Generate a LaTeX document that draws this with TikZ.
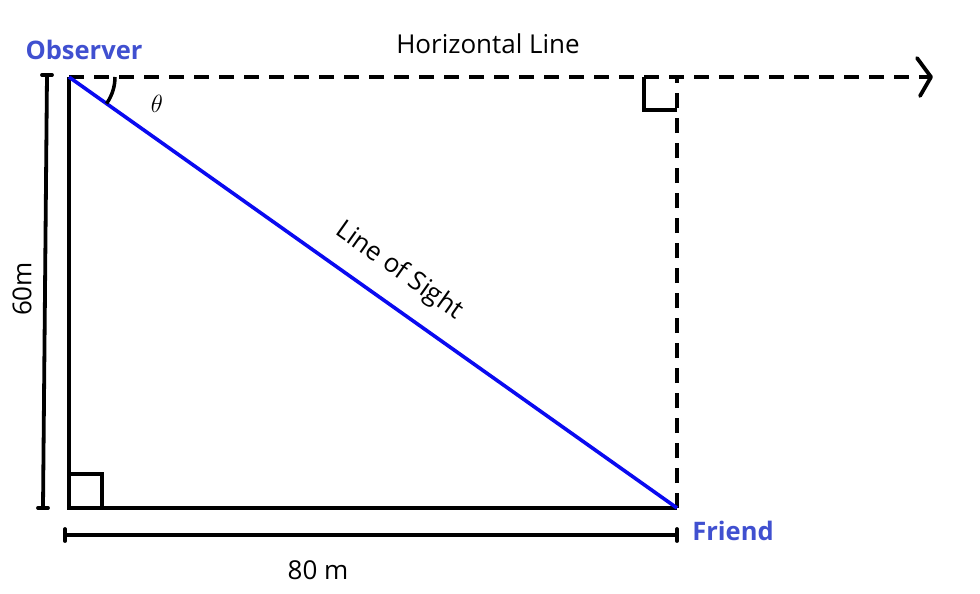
\documentclass[tikz,border=0pt]{standalone}
\usepackage{fontspec}
\setmainfont{Open Sans}
\usetikzlibrary{calc}
\definecolor{lblblue}{RGB}{64,80,208}
\definecolor{sight}{RGB}{10,10,240}
\begin{document}
\begin{tikzpicture}[x=1pt,y=-1pt,
  solid line/.style={line width=3.8pt},
  dash line/.style={line width=3.8pt,dash pattern=on 15pt off 10pt},
  dim line/.style={line width=3.8pt,line cap=round},
  bluelbl/.style={text=lblblue,font=\bfseries\fontsize{25.5}{28}\selectfont,inner sep=0pt},
  plainlbl/.style={font=\fontsize{26}{29}\selectfont,inner sep=0pt}]
\useasboundingbox (0,0) rectangle (980,594);
\coordinate (O) at (69,77);
\coordinate (F) at (677,508);
\coordinate (B) at (69,508);
\coordinate (R) at (677,77);
\coordinate (E) at (931,77);
% triangle sides
\draw[solid line] (O) -- (B) -- (F);
\draw[dash line] (O) -- (E);
\draw[dash line] (F) -- (R);
\draw[line width=3.8pt,line cap=round,line join=round] (917,58) -- (E) -- (920,96);
% right angle markers
\draw[line width=3.5pt] (69,474) -- (102,474) -- (102,508);
\draw[line width=3.5pt] (677,110) -- (644,110) -- (644,77);
% line of sight
\draw[line width=3.6pt,sight] (O) -- (F);
% angle arc
\draw[line width=3.5pt] ($(O)+(46,0)$) arc[start angle=0,end angle=35.3,radius=46];
% dimension lines
\coordinate (DT) at (47,75);
\coordinate (DB) at (43,508);
\draw[dim line] (DT) -- (DB);
\draw[dim line] ($(DT)+(-5,0)$) -- ($(DT)+(5,0)$);
\draw[dim line] ($(DB)+(-5,0)$) -- ($(DB)+(5,0)$);
\coordinate (HL) at (65,535);
\coordinate (HR) at (677,535);
\draw[dim line] (HL) -- (HR);
\draw[dim line] ($(HL)+(0,-6)$) -- ($(HL)+(0,6)$);
\draw[dim line] ($(HR)+(0,-6)$) -- ($(HR)+(0,6)$);
% labels
\node[bluelbl] (obs) at (84,50) {Observer};
\node[bluelbl] (fr) at (733,531) {Friend};
\node[plainlbl] (hl) at (488,44) {Horizontal Line};
\node[plainlbl,rotate=-35.3] (los) at (399,271) {Line of Sight};
\node[plainlbl,rotate=90] (h) at (22,289) {60m};
\node[plainlbl] (w) at (318,570) {80 m};
\node[inner sep=0pt,font=\fontsize{24}{26}\selectfont] (th) at (157,104) {$\theta$};
\end{tikzpicture}
\end{document}
